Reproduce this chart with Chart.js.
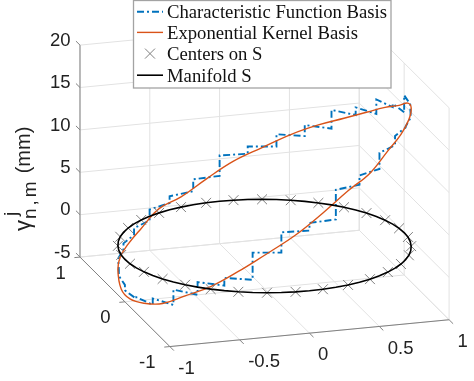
<!DOCTYPE html>
<html lang="en">
<head>
<meta charset="UTF-8">
<title>Basis approximation on manifold S</title>
<script src="https://cdn.jsdelivr.net/npm/chart.js@4.4.1/dist/chart.umd.min.js"></script>
<style>
  html, body { margin: 0; padding: 0; background: #fff; }
  #wrap { width: 474px; height: 381px; }
</style>
</head>
<body>
<div id="wrap"><canvas id="canvas" width="474" height="381"></canvas></div>
<script>
// centres on S (angle round the unit circle, degrees)
const centerAngles = [5.625, 16.875, 28.125, 39.375, 50.625, 61.875, 73.125, 84.375,
  95.625, 106.875, 118.125, 129.375, 140.625, 151.875, 163.125, 174.375,
  185.625, 196.875, 208.125, 219.375, 230.625, 241.875, 253.125, 264.375,
  275.625, 286.875, 298.125, 309.375, 320.625, 331.875, 343.125, 354.375];
// gamma (mm) at each centre
const charBasis = [14.2, 13.8, 12.1, 11.2, 9.0, 7.7, 6.25, 5.4, 3.0, 1.6, 0.8, -0.5, -1.3, -2.0, -2.3, -3.0,
  -3.65, -3.45, -2.7, -0.9, 0.6, 1.5, 4.7, 7.1, 8.0, 11.5, 12.6, 14.5, 15.6, 15.7, 15.8, 16.2];
const expBasis = [14.5, 13.3, 11.9, 10.5, 9.2, 7.75, 6.1, 4.6, 2.8, 1.2, 0.5, -1.0, -1.9, -2.4, -2.8, -4.0,
  -4.15, -3.7, -2.9, -1.3, 0.3, 2.4, 4.6, 6.7, 9.0, 11.1, 12.5, 14.3, 15.3, 16.0, 16.3, 15.8];

const xTicks = [-1, -0.5, 0, 0.5, 1];
const yTicks = [-1, 0, 1];
const zTicks = [-5, 0, 5, 10, 15, 20];
const legendLabels = ['Characteristic Function Basis', 'Exponential Kernel Basis', 'Centers on S', 'Manifold S'];

// 3d box view: screen spot of corner (x=-1, y=1, z=-5) and one unit step along x, y, z
const view = { ox: 74.5, oy: 260, ex: [144.5, -14], ey: [-46.5, -46.7], ez: -8.85 };

function proj(x, y, z) {
  return {
    x: view.ox + (x + 1) * view.ex[0] + (y - 1) * view.ey[0],
    y: view.oy + (x + 1) * view.ex[1] + (y - 1) * view.ey[1] + (z + 5) * view.ez
  };
}
function onS(deg, z) {
  const t = deg * Math.PI / 180;
  return proj(Math.cos(t), Math.sin(t), z);
}

const half = (centerAngles[1] - centerAngles[0]) / 2;
let stepPts = [], kernelPts = [], centerPts = [], circlePts = [];
centerAngles.forEach((a, i) => {
  stepPts.push(onS(a - half, charBasis[i]), onS(a + half, charBasis[i]));
  centerPts.push(onS(a, 0));
  circlePts.push(onS(a - half, 0), onS(a, 0));
});
stepPts.push(stepPts[0]);
circlePts.push(circlePts[0]);
// start the smooth curve at the bottom so the loop join sits on a straight bit
const start = 22;
for (let k = 0; k <= centerAngles.length; k++) {
  const i = (start + k) % centerAngles.length;
  kernelPts.push(onS(centerAngles[i], expBasis[i]));
}

const blue = '#0072BD', orange = '#D95319', grey = '#808080';

const box3d = {
  id: 'box3d',
  beforeDatasetsDraw(chart) {
    const ctx = chart.ctx, sx = chart.scales.x, sy = chart.scales.y;
    const P = (x, y, z) => { const p = proj(x, y, z); return [sx.getPixelForValue(p.x), sy.getPixelForValue(p.y)]; };
    const seg = (a, b) => { ctx.beginPath(); ctx.moveTo(a[0], a[1]); ctx.lineTo(b[0], b[1]); ctx.stroke(); };
    ctx.save();
    // grid on the back walls and floor
    ctx.strokeStyle = '#e2e2e2';
    ctx.lineWidth = 1;
    xTicks.forEach(x => { seg(P(x, 1, -5), P(x, 1, 20)); seg(P(x, 1, -5), P(x, -1, -5)); });
    yTicks.forEach(y => { seg(P(1, y, -5), P(1, y, 20)); seg(P(-1, y, -5), P(1, y, -5)); });
    zTicks.forEach(z => { seg(P(-1, 1, z), P(1, 1, z)); seg(P(1, 1, z), P(1, -1, z)); });
    // axis lines and ticks
    ctx.strokeStyle = grey;
    seg(P(-1, -1, -5), P(1, -1, -5));
    seg(P(-1, -1, -5), P(-1, 1, -5));
    seg(P(-1, 1, -5), P(-1, 1, 20));
    xTicks.forEach(x => seg(P(x, -1, -5), P(x, -1.09, -5)));
    yTicks.forEach(y => seg(P(-1, y, -5), P(-1.04, y, -5)));
    zTicks.forEach(z => seg(P(-1, 1, z), P(-1, 1.09, z)));
    // tick labels
    ctx.fillStyle = '#222';
    ctx.font = '18.5px "Liberation Sans", Arial, sans-serif';
    ctx.textBaseline = 'alphabetic';
    ctx.textAlign = 'left';
    xTicks.forEach(x => { const p = P(x, -1, -5); ctx.fillText(String(x), p[0] + 8.5, p[1] + 27.2); });
    ctx.textAlign = 'right';
    yTicks.forEach(y => { const p = P(-1, y, -5); ctx.fillText(String(y), p[0] - 14.3, p[1] + 21.6); });
    zTicks.forEach(z => { const p = P(-1, 1, z); ctx.fillText(String(z), p[0] - 9.5, p[1] + 0.8); });
    // z axis title, gamma^j_{n,m}(mm), written bottom to top
    ctx.translate(30, 231);
    ctx.rotate(-Math.PI / 2);
    ctx.textAlign = 'left';
    ctx.font = '22px "Liberation Sans", Arial, sans-serif';
    ctx.fillText('\u03B3', 0, 0);
    let cx = ctx.measureText('\u03B3').width + 1;
    ctx.font = '19px "Liberation Sans", Arial, sans-serif';
    ctx.fillText('j', cx + 3, -13);
    ctx.letterSpacing = '3px';
    ctx.fillText('n,m', cx, 6);
    cx += ctx.measureText('n,m').width + 5;
    ctx.letterSpacing = '0px';
    ctx.font = '20px "Liberation Sans", Arial, sans-serif';
    ctx.fillText('(mm)', cx, 0);
    ctx.restore();
  },
  afterDatasetsDraw(chart) {
    const ctx = chart.ctx;
    ctx.save();
    ctx.fillStyle = '#fff';
    ctx.fillRect(133.5, 0.5, 257.5, 87.5);
    ctx.strokeStyle = '#a3a3a3';
    ctx.lineWidth = 1.3;
    ctx.strokeRect(133.5, 0.5, 257.5, 87.5);
    const rows = [11.8, 32.4, 53.6, 75.2];
    // samples
    ctx.lineWidth = 1.9; ctx.strokeStyle = blue; ctx.setLineDash([7, 3, 2, 3]);
    ctx.beginPath(); ctx.moveTo(137, rows[0]); ctx.lineTo(163, rows[0]); ctx.stroke();
    ctx.setLineDash([]);
    ctx.lineWidth = 1.4; ctx.strokeStyle = orange;
    ctx.beginPath(); ctx.moveTo(137, rows[1]); ctx.lineTo(163, rows[1]); ctx.stroke();
    ctx.lineWidth = 1; ctx.strokeStyle = grey;
    ctx.beginPath();
    ctx.moveTo(145, rows[2] - 5); ctx.lineTo(155, rows[2] + 5);
    ctx.moveTo(155, rows[2] - 5); ctx.lineTo(145, rows[2] + 5);
    ctx.stroke();
    ctx.lineWidth = 1.6; ctx.strokeStyle = '#000';
    ctx.beginPath(); ctx.moveTo(137, rows[3]); ctx.lineTo(163, rows[3]); ctx.stroke();
    ctx.fillStyle = '#111';
    ctx.font = '18.7px "Liberation Serif", "Times New Roman", serif';
    ctx.textAlign = 'left';
    ctx.textBaseline = 'alphabetic';
    legendLabels.forEach((t, i) => ctx.fillText(t, 167, rows[i] + 6.4));
    ctx.restore();
  }
};

new Chart(document.getElementById('canvas'), {
  type: 'scatter',
  data: {
    datasets: [
      { label: legendLabels[3], data: circlePts, showLine: true, borderColor: '#000', borderWidth: 1.6,
        pointRadius: 0, order: 1 },
      { label: legendLabels[2], data: centerPts, pointStyle: 'crossRot', pointRadius: 7,
        borderColor: grey, borderWidth: 1, backgroundColor: grey, order: 2 },
      { label: legendLabels[1], data: kernelPts, showLine: true, borderColor: orange, borderWidth: 1.4,
        tension: 0.4, pointRadius: 0, order: 3 },
      { label: legendLabels[0], data: stepPts, showLine: true, borderColor: blue, borderWidth: 1.9,
        borderDash: [7, 3, 2, 3], pointRadius: 0, order: 4 }
    ]
  },
  options: {
    responsive: false,
    animation: false,
    events: [],
    layout: { padding: 0 },
    scales: {
      x: { type: 'linear', min: 0, max: 474, display: false },
      y: { type: 'linear', min: 0, max: 381, reverse: true, display: false }
    },
    plugins: { legend: { display: false }, tooltip: { enabled: false } }
  },
  plugins: [box3d]
});
</script>
</body>
</html>
